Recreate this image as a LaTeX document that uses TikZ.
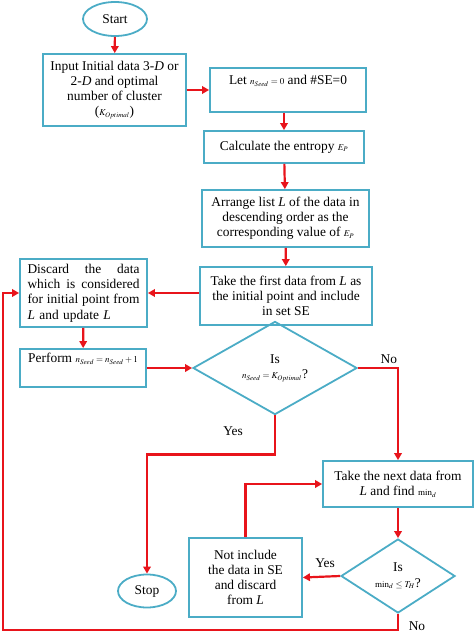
\documentclass[tikz,border=0pt]{standalone}
\usepackage{mathptmx}
\usepackage{fontspec}
\setmainfont{Liberation Serif}
\usetikzlibrary{shapes.geometric,arrows.meta}
\definecolor{boxblue}{HTML}{4BACC6}
\definecolor{arrred}{HTML}{E8141B}
\newcommand{\fm}[1]{{\small$#1$}}
\begin{document}
\begin{tikzpicture}[x=1pt,y=-1pt,
  font=\fontsize{13.4}{15.2}\selectfont,
  blk/.style={draw=boxblue,line width=1.8pt,align=center,inner sep=2pt},
  oval/.style={blk,ellipse},
  dec/.style={blk,diamond,inner sep=0pt},
  arr/.style={draw=arrred,line width=2.2pt,-{Triangle[length=7pt,width=7.5pt]}}]
\useasboundingbox (0,0) rectangle (474,636);
\node[oval,minimum width=64,minimum height=34] (start) at (115,19) {Start};
\node[blk,minimum width=143,minimum height=72] (input) at (114.5,90)
  {Input Initial data 3-\textit{D} or\\2-\textit{D} and optimal\\number of cluster\\(\fm{K_{Optimal}})};
\node[blk,minimum width=156,minimum height=44] (let) at (288,90)
  {Let \fm{n_{Seed}=0} and \#SE=0\\ \strut};
\node[blk,minimum width=160,minimum height=32] (calc) at (284,147)
  {Calculate the entropy \fm{E_P}};
\node[blk,minimum width=167,minimum height=57] (arrange) at (285.5,218.5)
  {Arrange list \textit{L} of the data in\\descending order as the\\corresponding value of \fm{E_P}};
\node[blk,minimum width=172,minimum height=58] (takefirst) at (286,296)
  {Take the first data from \textit{L} as\\the initial point and include\\in set SE};
\node[blk,minimum width=127,minimum height=68,text width=112,align=left] (discard) at (83.5,293)
  {Discard\hfill the\hfill data\\which\hfill is\hfill considered\\for\hfill initial\hfill point\hfill from\\\textit{L} and update \textit{L}};
\node[blk,minimum width=126,minimum height=38] (perform) at (83,368)
  {Perform \fm{n_{Seed}=n_{Seed}+1}\\ \strut};
\node[dec,minimum width=164,minimum height=72] (isseed) at (275,368)
  {Is\\\fm{n_{Seed}=K_{Optimal}}?};
\node[oval,minimum width=58,minimum height=33] (stop) at (147,591) {Stop};
\node[blk,minimum width=150,minimum height=46] (takenext) at (398,484)
  {Take the next data from\\\textit{L} and find \fm{\min_d}};
\node[dec,minimum width=114,minimum height=74] (ismin) at (398,576)
  {Is\\\fm{\min_d\le T_H}?};
\node[blk,minimum width=113,minimum height=79] (notinc) at (245.5,577.5)
  {Not include\\the data in SE\\and discard\\from \textit{L}};
\coordinate (back) at (3,630);
\draw[arr] (start) -- (input);
\draw[arr] (input.east) -- (let.west);
\draw[arr] (let.south -| calc.north) -- (calc.north);
\draw[arr] (calc) -- (arrange);
\draw[arr] (arrange) -- (takefirst);
\draw[arr] (takefirst.west |- discard.east) -- (discard.east);
\draw[arr] (discard) -- (perform);
\draw[arr] (perform.east) -- (isseed.west);
\draw[arr] (isseed.east) -- ++(41,0) node[above,black,xshift=-10pt] {No} -| (takenext.north);
\draw[arr] (isseed.south) -- ++(0,39) -| (stop.north);
\node at (233,431) {Yes};
\draw[arr] (takenext) -- (ismin);
\draw[arr] (ismin.west) -- (notinc.east);
\node at (325,563) {Yes};
\draw[arr] (notinc.north) |- (takenext.west);
\draw[arr] (ismin.south) |- (back) |- (discard.west);
\node at (417,626) {No};
\end{tikzpicture}
\end{document}
